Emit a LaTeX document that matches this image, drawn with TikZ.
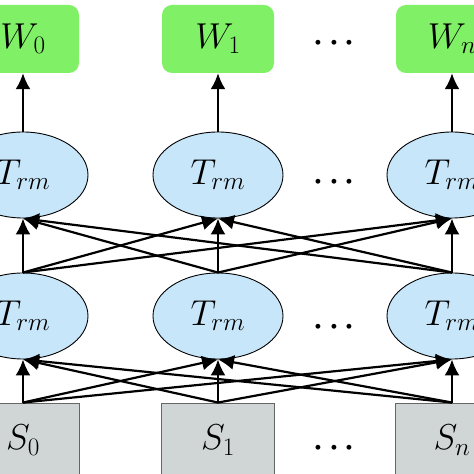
\RequirePackage{fix-cm}
\documentclass[tikz,border=0pt]{standalone}
\usepackage{amsmath}
\usetikzlibrary{shapes.geometric, arrows.meta, positioning}
\definecolor{wgreen}{RGB}{128,240,102}
\definecolor{tblue}{RGB}{200,230,250}
\definecolor{sgray}{RGB}{208,214,214}
\tikzset{
  wbox/.style={fill=wgreen, rounded corners=10pt, minimum width=112pt, minimum height=68pt, inner sep=0pt},
  trm/.style={ellipse, draw, fill=tblue, line width=0.9pt, minimum width=130pt, minimum height=86pt, inner sep=0pt},
  sbox/.style={draw=black!60, fill=sgray, line width=0.9pt, minimum width=113pt, minimum height=74pt, inner sep=0pt},
  conn/.style={-{Latex[length=16pt,width=15pt]}, line width=2.2pt},
  gap/.style={font=\fontsize{31}{36}\selectfont},
}

\begin{document}
\begin{tikzpicture}[x=1pt, y=1pt, font=\fontsize{36}{40}\selectfont]
        \clip (0,0) rectangle (474,474);

        \node[wbox] (w0) at (23,435) {$W_0$};
        \node[wbox] (w1) at (218,435) {$W_1$};
        \node[wbox] (wn) at (452,435) {$W_n$};
        \node[gap] (wdots) at (337,431) {$\boldsymbol{\cdots}$};

        \node[trm] (tu0) at (23,299) {$T_{rm}$};
        \node[trm] (tu1) at (218,299) {$T_{rm}$};
        \node[trm] (tun) at (452,299) {$T_{rm}$};
        \node[gap] (tudots) at (337,292) {$\boldsymbol{\cdots}$};

        \node[trm] (tl0) at (23,158) {$T_{rm}$};
        \node[trm] (tl1) at (218,158) {$T_{rm}$};
        \node[trm] (tln) at (452,158) {$T_{rm}$};
        \node[gap] (tldots) at (337,147) {$\boldsymbol{\cdots}$};

        \node[sbox] (s0) at (23,34) {$S_0$};
        \node[sbox] (s1) at (218,34) {$S_1$};
        \node[sbox] (sn) at (452,34) {$S_n$};
        \node[gap] (sdots) at (337,26) {$\boldsymbol{\cdots}$};

        % every input to every lower block, every lower block to every upper block
        \foreach \a in {0,1,n}
          \foreach \b in {0,1,n} {
            \draw[conn] (s\a.north) -- (tl\b.south);
            \draw[conn] (tl\a.north) -- (tu\b.south);
          }

        \draw[conn] (tu0) -- (w0);
        \draw[conn] (tu1) -- (w1);
        \draw[conn] (tun) -- (wn);
      \end{tikzpicture}
\end{document}
